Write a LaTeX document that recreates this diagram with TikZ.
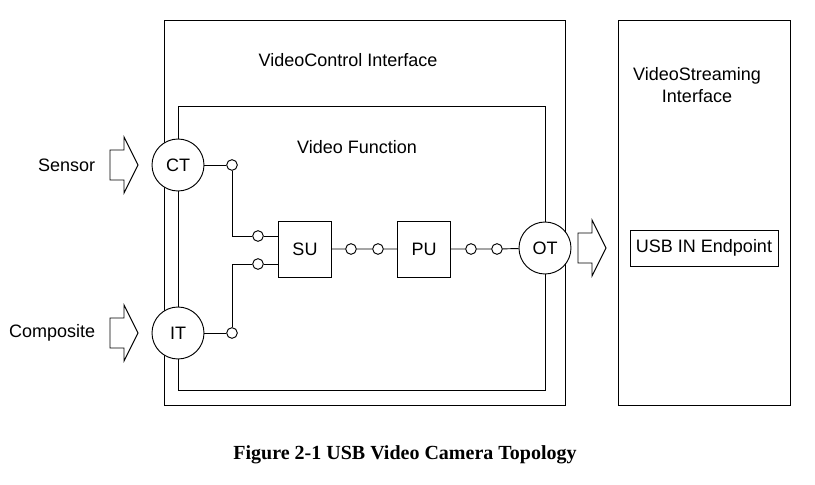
\documentclass[tikz,border=0pt]{standalone}
\usepackage{fontspec}
\setmainfont{Liberation Sans}
\newfontfamily\capfont{Liberation Serif}
\begin{document}
\begin{tikzpicture}[x=0.75pt,y=-0.75pt,line width=0.7pt,
  term/.style={circle,draw,minimum size=39pt,inner sep=0pt,fill=white,font=\fontsize{13.5}{16}\selectfont},
  unit/.style={rectangle,draw,minimum width=40pt,minimum height=42pt,font=\fontsize{13.5}{16}\selectfont},
  pin/.style={circle,draw,minimum size=8pt,inner sep=0pt,fill=white},
  lbl/.style={font=\fontsize{13.5}{17}\selectfont,align=center},
  barrow/.style={draw,line width=0.7pt}]
\useasboundingbox (0,0) rectangle (815,485);
\draw (164,20) rectangle (565,405);
\draw (178,106) rectangle (545,390);
\draw (618,20) rectangle (790,405);
\node[lbl] (vci) at (348,60) {VideoControl Interface};
\node[lbl] (vf) at (357,147) {Video Function};
\node[lbl] (vsi) at (697,85) {VideoStreaming\\Interface};
\node[draw,lbl,minimum width=111pt,minimum height=27pt] (usb) at (704,248) {USB IN Endpoint};
\node[term] (ct) at (178,165) {CT};
\node[term] (it) at (178,333) {IT};
\node[term] (ot) at (545,248) {OT};
\node[unit] (su) at (305,249) {SU};
\node[unit] (pu) at (424,249) {PU};
\node[pin] (p1) at (232,165) {};
\node[pin] (p2) at (258,236) {};
\node[pin] (p3) at (258,264) {};
\node[pin] (p4) at (232,333) {};
\node[pin] (p5) at (351,249) {};
\node[pin] (p6) at (378,249) {};
\node[pin] (p7) at (471,249) {};
\node[pin] (p8) at (497,249) {};
\draw (ct) -- (p1);
\draw (p1) |- (p2);
\draw (p2) -- (p2 -| su.west);
\draw (p4) |- (p3);
\draw (p3) -- (p3 -| su.west);
\draw (it) -- (p4);
\draw (su) -- (p5) -- (p6) -- (pu) -- (p7) -- (p8) -- (ot);
\foreach \n/\x/\y in {a1/110/165, a2/110/333, a3/578/248}{
  \draw[barrow] (\x,\y-15) -- (\x+14,\y-15) -- (\x+14,\y-28) -- (\x+28,\y) -- (\x+14,\y+28) -- (\x+14,\y+15) -- (\x,\y+15) -- cycle;
}
\node[lbl,anchor=east] (sen) at (100,165) {Sensor};
\node[lbl,anchor=east] (com) at (100,333) {Composite};
\node[font=\capfont\bfseries\fontsize{15}{18}\selectfont] (cap) at (405,455) {Figure 2-1 USB Video Camera Topology};
\end{tikzpicture}
\end{document}
